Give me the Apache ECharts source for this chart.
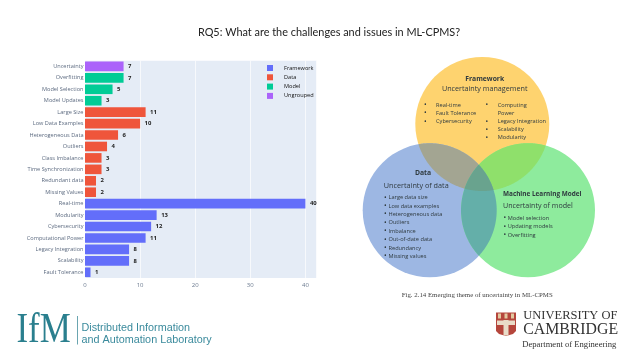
<!DOCTYPE html>
<html>
<head>
<meta charset="utf-8">
<style>html,body{margin:0;padding:0;background:#fff}#main{width:638px;height:359px}</style>
<script src="https://cdn.jsdelivr.net/npm/echarts@6/dist/echarts.min.js"></script>
</head>
<body>
<div id="main"></div>
<script>
// bottom to top, same order as the horizontal bars in the picture
var categories = ['Fault Tolerance','Scalability','Legacy Integration','Computational Power','Cybersecurity','Modularity','Real-time',
    'Missing Values','Redundant data','Time Synchronization','Class Imbalance','Outliers','Heterogeneous Data','Low Data Examples','Large Size',
    'Model Updates','Model Selection','Overfitting','Uncertainty'];
var frameworkValues = [1,8,8,11,12,13,40,null,null,null,null,null,null,null,null,null,null,null,null];
var dataValues = [null,null,null,null,null,null,null,2,2,3,3,4,6,10,11,null,null,null,null];
var modelValues = [null,null,null,null,null,null,null,null,null,null,null,null,null,null,null,3,5,7,null];
var ungroupedValues = [null,null,null,null,null,null,null,null,null,null,null,null,null,null,null,null,null,null,7];

var frameworkList1 = ['Real-time','Fault Tolerance','Cybersecurity'];
var frameworkList2 = ['Computing','Power','Legacy Integration','Scalability','Modularity'];
var dataList = ['Large data size','Low data examples','Heterogeneous data','Outliers','Imbalance','Out-of-date data','Redundancy','Missing values'];
var modelList = ['Model selection','Updating models','Overfitting'];

var myChart = echarts.init(document.getElementById('main'));

function barSeries(name, color, values) {
    return {
        name: name,
        type: 'bar',
        stack: 'all',
        data: values,
        barCategoryGap: '16%',
        itemStyle: {color: color},
        label: {show: true, position: 'right', distance: 4.5, color: '#222', fontSize: 5.9, fontWeight: 'bold', fontFamily: 'Open Sans'}
    };
}

function txt(x, y, text, size, opt) {
    opt = opt || {};
    return {
        type: 'text', x: x, y: y, z: 20, silent: true, scaleX: opt.scaleX || 1,
        style: {
            text: text,
            fontSize: size,
            fontFamily: opt.font || 'Open Sans',
            fontWeight: opt.weight || 'normal',
            fill: opt.color || '#2f3a3f',
            align: opt.align || 'left',
            verticalAlign: 'middle'
        }
    };
}

// venn circles
var R = 67;
var cFrame = [482.3, 124], cData = [429.7, 210.3], cModel = [528, 210.2];

function circle(c, color) {
    return {type: 'circle', z: 2, silent: true, shape: {cx: c[0], cy: c[1], r: R}, style: {fill: color}};
}
function inside(p, c) {
    return Math.pow(p[0]-c[0],2)+Math.pow(p[1]-c[1],2) <= R*R+0.01;
}
// overlap of some circles, as a polygon walked round the outline
function overlap(list, color, z) {
    var pts = [], cx = 0, cy = 0;
    list.forEach(function (c) {
        for (var a = 0; a < 720; a++) {
            var p = [c[0]+R*Math.cos(a*Math.PI/360), c[1]+R*Math.sin(a*Math.PI/360)];
            if (list.every(function (o) { return inside(p, o); })) pts.push(p);
        }
    });
    pts.forEach(function (p) { cx += p[0]; cy += p[1]; });
    cx /= pts.length; cy /= pts.length;
    pts.sort(function (a, b) { return Math.atan2(a[1]-cy,a[0]-cx)-Math.atan2(b[1]-cy,b[0]-cx); });
    return {type: 'polygon', z: z, silent: true, shape: {points: pts}, style: {fill: color}};
}

var graphics = [
    txt(329, 32, 'RQ5: What are the challenges and issues in ML-CPMS?', 10.9, {font: 'Lato', align: 'center', color: '#222'}),
    circle(cFrame, '#fed36f'),
    circle(cData, '#9db7e3'),
    circle(cModel, '#8eeb9d'),
    overlap([cFrame, cData], '#a3a592', 3),
    overlap([cFrame, cModel], '#8fe06b', 3),
    overlap([cData, cModel], '#64afa9', 3),
    overlap([cFrame, cData, cModel], '#69a38e', 4),
    txt(484.7, 79, 'Framework', 6.8, {weight: 'bold', align: 'center'}),
    txt(484.7, 88.7, 'Uncertainty management', 7.2, {align: 'center'}),
    txt(423, 173.3, 'Data', 6.8, {weight: 'bold', align: 'center'}),
    txt(383.7, 186, 'Uncertainty of data', 7.25),
    txt(503, 194.3, 'Machine Learning Model', 6.4, {weight: 'bold'}),
    txt(503, 206.3, 'Uncertainty of model', 7.1),
    txt(401.7, 295.7, 'Fig. 2.14 Emerging theme of uncertainty in ML-CPMS', 6.85, {font: 'Liberation Serif', color: '#444'}),

    // IfM logo
    txt(16.5, 331, 'IfM', 42, {font: 'Liberation Serif', color: '#2a7f8e', scaleX: 0.83}),
    {type: 'rect', shape: {x: 77, y: 316, width: 0.7, height: 28.5}, style: {fill: '#2a7f8e'}, silent: true},
    txt(81.5, 327.7, 'Distributed Information', 10.8, {font: 'Liberation Sans', color: '#3a8a9c'}),
    txt(81.5, 340, 'and Automation Laboratory', 10.8, {font: 'Liberation Sans', color: '#3a8a9c'}),

    // Cambridge shield
    {type: 'rect', shape: {x: 496, y: 312.5, width: 20, height: 18}, style: {fill: '#b5463c'}, silent: true},
    {type: 'polygon', shape: {points: [[496,330],[516,330],[516,331],[513,334],[506,336],[499,334],[496,331]]}, style: {fill: '#b5463c'}, silent: true},
    {type: 'rect', shape: {x: 503.5, y: 320, width: 5, height: 15.5}, style: {fill: '#e9dcc8'}, silent: true},
    {type: 'rect', shape: {x: 497, y: 320.5, width: 18, height: 4.5}, style: {fill: '#e9dcc8'}, silent: true},
    {type: 'rect', shape: {x: 498, y: 313.5, width: 3, height: 5}, style: {fill: '#e2c9a0'}, silent: true},
    {type: 'rect', shape: {x: 504.5, y: 313.5, width: 3, height: 5}, style: {fill: '#e2c9a0'}, silent: true},
    {type: 'rect', shape: {x: 511, y: 313.5, width: 3, height: 5}, style: {fill: '#e2c9a0'}, silent: true},
    txt(523.3, 316, 'UNIVERSITY OF', 12.5, {font: 'Liberation Serif', color: '#333'}),
    txt(523.3, 329.7, 'CAMBRIDGE', 15.8, {font: 'Liberation Serif', color: '#333'}),
    txt(522.3, 345, 'Department of Engineering', 8.6, {font: 'Liberation Serif', color: '#333'})
];

frameworkList1.forEach(function (s, i) {
    graphics.push(txt(424, 105+i*8.35, '•', 7));
    graphics.push(txt(436, 105+i*8.35, s, 5.65));
});
[105, 113.3, 121.7, 129.5, 137.5].forEach(function (y, i) {
    if (i !== 1) graphics.push(txt(485.5, y, '•', 7));
    graphics.push(txt(497.7, y, frameworkList2[i], 5.65));
});
dataList.forEach(function (s, i) {
    graphics.push(txt(384, 197.7+i*8.38, '•', 7));
    graphics.push(txt(388.5, 197.7+i*8.38, s, 5.65));
});
modelList.forEach(function (s, i) {
    graphics.push(txt(503.5, 218+i*8.5, '•', 7));
    graphics.push(txt(507.7, 218+i*8.5, s, 5.65));
});

var option = {
    animation: false,
    backgroundColor: '#fff',
    textStyle: {fontFamily: 'Open Sans'},
    grid: {left: 85, top: 60.7, width: 231.7, height: 217.3, backgroundColor: '#e5ecf6', show: true, borderWidth: 0},
    legend: {
        orient: 'vertical', left: 262, top: 60, itemWidth: 6, itemHeight: 6, itemGap: 3.3, icon: 'rect',
        data: ['Framework','Data','Model','Ungrouped'],
        textStyle: {fontSize: 5.6, color: '#111', fontWeight: 'normal', padding: [0,0,0,6]}
    },
    xAxis: {
        type: 'value', min: 0, max: 42.05, interval: 10,
        axisLine: {show: false}, axisTick: {show: false},
        splitLine: {lineStyle: {color: '#fff', width: 0.7}},
        axisLabel: {color: '#6b7a8f', fontSize: 6, margin: 4, showMaxLabel: false}
    },
    yAxis: {
        type: 'category', data: categories,
        axisLine: {show: false}, axisTick: {show: false},
        axisLabel: {color: '#5d6b80', fontSize: 5.6, margin: 1.5}
    },
    series: [
        barSeries('Framework', '#636efa', frameworkValues),
        barSeries('Data', '#ef553b', dataValues),
        barSeries('Model', '#00cc96', modelValues),
        barSeries('Ungrouped', '#ab63fa', ungroupedValues)
    ],
    graphic: graphics
};
myChart.setOption(option);
</script>
</body>
</html>
